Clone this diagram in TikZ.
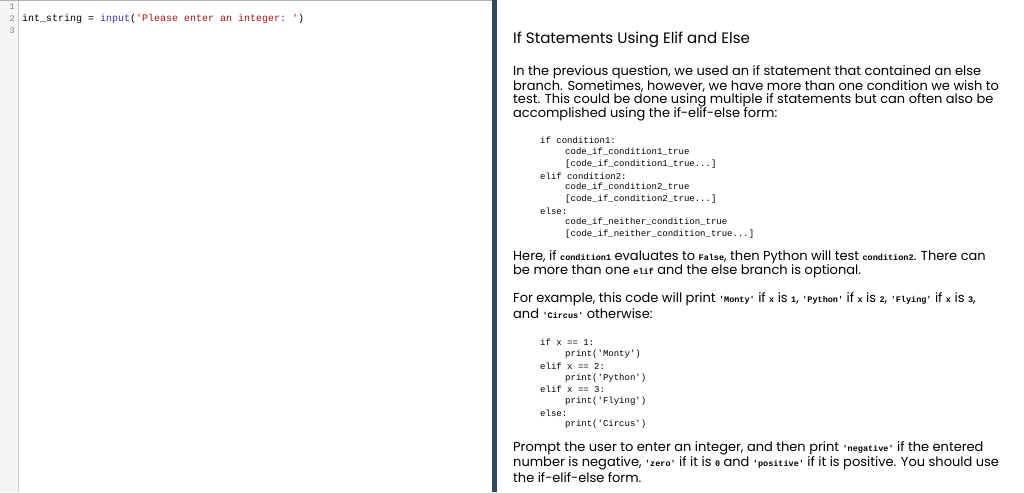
\documentclass[tikz,border=0pt]{standalone}
\usepackage{fontspec}
\setmainfont{Poppins}
\setmonofont{Liberation Mono}
\definecolor{divider}{HTML}{2F4A5C}
\definecolor{gutter}{HTML}{F5F5F5}
\definecolor{kwblue}{HTML}{3333AA}
\definecolor{strred}{HTML}{A31515}
\newcommand{\ic}[1]{{\ttfamily\bfseries\fontsize{8.5}{9}\selectfont #1}}
\tikzset{
  body/.style={anchor=west, inner sep=0pt, font=\fontsize{13}{14}\selectfont},
  codeline/.style={anchor=west, inner sep=0pt, font=\ttfamily\fontsize{9}{10}\selectfont},
  lineno/.style={anchor=east, inner sep=0pt, text=gray, font=\ttfamily\fontsize{8.5}{9}\selectfont}
}
\begin{document}
\begin{tikzpicture}[x=1pt,y=-1pt]
\useasboundingbox (0,0) rectangle (1024,492);
\fill[white] (0,0) rectangle (1024,492);
% editor
\fill[gutter] (0,0) rectangle (18,492);
\draw[gray!40] (18,0) -- (18,492);
\draw[gray!60, line width=1.5pt] (0,0.5) -- (492,0.5);
\fill[divider] (492,0) rectangle (497,492);
\node[lineno] (n1) at (15,7) {1};
\node[lineno] (n2) at (15,19) {2};
\node[lineno] (n3) at (15,31) {3};
\node[codeline, font=\ttfamily\fontsize{10}{10}\selectfont] (c2) at (22,19) {int\_string = \textcolor{kwblue}{input}(\textcolor{strred}{'Please enter an integer: '})};
% text panel
\node[anchor=west, inner sep=0pt, font=\fontsize{15.1}{18}\selectfont] (title) at (513,40) {If Statements Using Elif and Else};
\node[body] (p1a) at (513,72) {In the previous question, we used an if statement that contained an else};
\node[body] (p1b) at (513,86) {branch. Sometimes, however, we have more than one condition we wish to};
\node[body] (p1c) at (513,100) {test. This could be done using multiple if statements but can often also be};
\node[body] (p1d) at (513,114) {accomplished using the if-elif-else form:};
\foreach \y/\x/\t in {140/540/{if condition1:}, 152/565/{code\_if\_condition1\_true}, 164/565/{[code\_if\_condition1\_true...]},
  176/540/{elif condition2:}, 187/565/{code\_if\_condition2\_true}, 199/565/{[code\_if\_condition2\_true...]},
  211/540/{else:}, 222/565/{code\_if\_neither\_condition\_true}, 234/565/{[code\_if\_neither\_condition\_true...]}}
  \node[codeline] at (\x,\y) {\t};
\node[body] (p2a) at (513,257) {Here, if \ic{condition1} evaluates to \ic{False}, then Python will test \ic{condition2}. There can};
\node[body] (p2b) at (513,271) {be more than one \ic{elif} and the else branch is optional.};
\node[body] (p3a) at (513,299) {For example, this code will print \ic{'Monty'} if \ic{x} is \ic{1}, \ic{'Python'} if \ic{x} is \ic{2}, \ic{'Flying'} if \ic{x} is \ic{3},};
\node[body] (p3b) at (513,314) {and \ic{'Circus'} otherwise:};
\foreach \y/\x/\t in {342/540/{if x == 1:}, 354/565/{print('Monty')}, 366/540/{elif x == 2:}, 378/565/{print('Python')},
  389/540/{elif x == 3:}, 401/565/{print('Flying')}, 413/540/{else:}, 424/565/{print('Circus')}}
  \node[codeline] at (\x,\y) {\t};
\node[body] (p4a) at (513,448) {Prompt the user to enter an integer, and then print \ic{'negative'} if the entered};
\node[body] (p4b) at (513,463) {number is negative, \ic{'zero'} if it is \ic{0} and \ic{'positive'} if it is positive. You should use};
\node[body] (p4c) at (513,478) {the if-elif-else form.};
\end{tikzpicture}
\end{document}
